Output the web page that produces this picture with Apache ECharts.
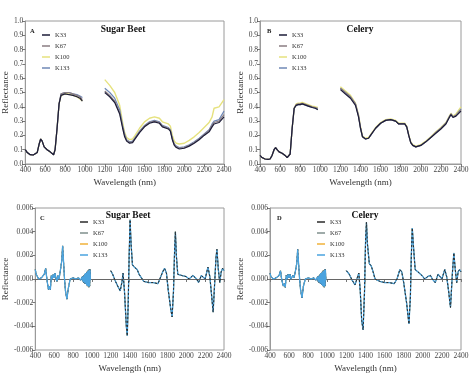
<!DOCTYPE html>
<html><head><meta charset="utf-8">
<script src="https://cdn.jsdelivr.net/npm/echarts@6/dist/echarts.min.js"></script>
<style>html,body{margin:0;padding:0;background:#fff}#c{width:474px;height:374px}</style>
</head><body><div id="c"></div>
<script>
// ---------- data ----------
const names = ['K33','K67','K100','K133'];

// reflectance wavelengths
const wlVis = [400,420,450,480,500,520,540,555,570,590,620,650,670,685,700,720,740,760,780,800,820,840,880,920,950,975];
const wlSwir = [1200,1250,1300,1350,1380,1400,1420,1450,1480,1500,1550,1600,1650,1700,1750,1780,1800,1840,1860,1880,1900,1920,1950,2000,2050,2100,2150,2200,2250,2280,2300,2320,2350,2400];

// Panel A: Sugar Beet reflectance
const beetK33Vis  = [0.10,0.08,0.065,0.063,0.065,0.08,0.14,0.175,0.16,0.12,0.10,0.085,0.072,0.065,0.10,0.25,0.42,0.48,0.49,0.49,0.485,0.485,0.48,0.47,0.46,0.44];
const beetK67Vis  = [0.10,0.08,0.065,0.063,0.065,0.08,0.14,0.175,0.16,0.12,0.10,0.085,0.072,0.065,0.10,0.25,0.42,0.49,0.50,0.50,0.505,0.50,0.49,0.48,0.47,0.45];
const beetK100Vis = [0.10,0.08,0.065,0.063,0.065,0.08,0.14,0.175,0.16,0.12,0.10,0.085,0.072,0.065,0.10,0.25,0.42,0.48,0.49,0.49,0.49,0.49,0.48,0.47,0.455,0.44];
const beetK133Vis = [0.10,0.08,0.065,0.063,0.065,0.08,0.14,0.175,0.16,0.12,0.10,0.085,0.072,0.065,0.10,0.25,0.42,0.49,0.50,0.50,0.50,0.50,0.49,0.485,0.475,0.465];
const beetK33Swir  = [0.50,0.47,0.43,0.35,0.25,0.19,0.16,0.145,0.15,0.17,0.22,0.26,0.285,0.295,0.285,0.26,0.25,0.245,0.23,0.17,0.13,0.115,0.105,0.11,0.125,0.145,0.17,0.20,0.225,0.26,0.28,0.275,0.29,0.33];
const beetK67Swir  = [0.51,0.48,0.44,0.36,0.26,0.20,0.165,0.15,0.155,0.175,0.225,0.265,0.29,0.30,0.29,0.265,0.255,0.25,0.235,0.175,0.135,0.12,0.11,0.115,0.13,0.15,0.175,0.205,0.235,0.27,0.29,0.285,0.30,0.345];
const beetK100Swir = [0.59,0.55,0.50,0.41,0.29,0.22,0.185,0.17,0.175,0.195,0.25,0.295,0.32,0.33,0.32,0.295,0.285,0.28,0.265,0.20,0.16,0.145,0.14,0.145,0.165,0.19,0.22,0.255,0.29,0.33,0.39,0.38,0.40,0.45];
const beetK133Swir = [0.53,0.50,0.46,0.38,0.27,0.21,0.17,0.155,0.16,0.18,0.23,0.27,0.295,0.305,0.295,0.27,0.26,0.255,0.24,0.18,0.14,0.125,0.115,0.12,0.135,0.155,0.18,0.21,0.24,0.28,0.30,0.295,0.31,0.37];

// Panel B: Celery reflectance
const celK33Vis  = [0.06,0.045,0.035,0.033,0.035,0.06,0.10,0.115,0.10,0.085,0.075,0.06,0.045,0.035,0.07,0.25,0.39,0.41,0.415,0.415,0.42,0.415,0.405,0.395,0.39,0.38];
const celK67Vis  = [0.06,0.045,0.035,0.033,0.035,0.06,0.10,0.115,0.10,0.085,0.075,0.06,0.045,0.035,0.07,0.25,0.39,0.415,0.42,0.42,0.425,0.42,0.41,0.40,0.395,0.39];
const celK100Vis = [0.06,0.045,0.035,0.033,0.035,0.06,0.10,0.115,0.10,0.085,0.075,0.06,0.045,0.035,0.07,0.25,0.39,0.42,0.425,0.425,0.43,0.425,0.415,0.405,0.40,0.395];
const celK133Vis = [0.06,0.045,0.035,0.033,0.035,0.06,0.10,0.115,0.10,0.085,0.075,0.06,0.045,0.035,0.07,0.25,0.39,0.41,0.415,0.415,0.42,0.415,0.405,0.395,0.39,0.385];
const celK33Swir  = [0.52,0.49,0.46,0.41,0.33,0.25,0.19,0.175,0.18,0.20,0.25,0.285,0.305,0.31,0.30,0.28,0.28,0.28,0.26,0.20,0.15,0.13,0.12,0.13,0.155,0.185,0.215,0.245,0.28,0.32,0.345,0.325,0.335,0.37];
const celK67Swir  = [0.53,0.50,0.47,0.42,0.34,0.255,0.19,0.175,0.18,0.20,0.25,0.285,0.305,0.31,0.30,0.28,0.28,0.28,0.26,0.20,0.15,0.13,0.12,0.13,0.155,0.185,0.22,0.25,0.285,0.325,0.35,0.33,0.34,0.38];
const celK100Swir = [0.54,0.51,0.48,0.425,0.345,0.26,0.195,0.18,0.185,0.205,0.255,0.29,0.31,0.315,0.305,0.285,0.285,0.285,0.265,0.205,0.155,0.135,0.125,0.135,0.16,0.19,0.225,0.255,0.29,0.33,0.355,0.335,0.35,0.40];
const celK133Swir = [0.53,0.50,0.47,0.42,0.34,0.25,0.19,0.175,0.18,0.20,0.25,0.285,0.305,0.31,0.30,0.28,0.28,0.28,0.26,0.20,0.15,0.13,0.12,0.13,0.155,0.185,0.22,0.25,0.285,0.325,0.35,0.33,0.34,0.385];

// Panel C: Sugar Beet derivative (visible / NIR part and SWIR part)
const beetDerWlVis = [400,410,420,435,450,465,480,495,510,520,530,540,550,560,570,580,590,600,610,620,630,640,650,660,670,680,690,700,710,720,735,750,770,800,830,860,880,
  900,904,908,912,916,920,924,928,932,936,940,944,948,952,956,960,964,968,972,976,980,985];
const beetDerVis = [0.0008,0.0004,0.0003,0.0,-0.0001,0.0001,0.0002,0.0004,0.0009,0.0002,-0.0004,-0.0009,-0.0006,-0.0009,0.0003,0.0,0.0004,0.0001,0.0005,0.0,-0.0002,0.0003,0.0,0.0004,0.0003,0.0015,0.0028,0.0014,0.0,-0.0010,-0.0017,-0.0008,0.0,0.0001,0.0,0.0001,-0.0001,
  0.0002,-0.0002,0.0002,-0.0003,0.0003,-0.0003,0.0004,-0.0004,0.0005,-0.0004,0.0005,-0.0005,0.0006,-0.0006,0.0007,-0.0006,0.0007,-0.0007,0.0008,-0.0006,0.0008,-0.0001];
const beetDerWlSwir = [1200,1220,1250,1280,1300,1320,1330,1345,1365,1375,1385,1395,1405,1415,1430,1450,1480,1500,1550,1600,1650,1700,1720,1750,1770,1790,1810,1835,1850,1865,1875,1885,1895,1910,1950,2000,2030,2070,2090,2110,2130,2160,2180,2200,2230,2250,2270,2285,2300,2315,2325,2340,2355,2370,2385,2400];
const beetDerSwir = [0.0007,0.0004,-0.0002,-0.0007,-0.0010,-0.0002,0.0005,-0.0010,-0.0040,-0.0048,-0.0020,0.0020,0.0050,0.0030,0.0012,0.0010,0.0008,0.0004,-0.0002,-0.0003,-0.0003,-0.0004,-0.0003,0.0006,0.0009,0.0005,-0.0010,-0.0025,-0.0032,-0.0010,0.0020,0.0040,0.0020,0.0004,0.0003,0.0002,0.0,0.0003,0.0004,0.0,-0.0003,0.0003,0.0002,0.0,0.0010,0.0002,-0.0015,-0.0028,-0.0005,0.0018,0.0025,0.0008,-0.0003,0.0006,0.0009,0.0007];

// Panel D: Celery derivative
const celDerWlVis = [400,410,420,435,450,465,480,495,510,520,530,540,550,560,570,580,590,600,610,620,630,640,650,660,670,680,690,700,710,720,735,750,770,800,830,860,880,
  900,904,908,912,916,920,924,928,932,936,940,944,948,952,956,960,964,968,972,976,980,985];
const celDerVis = [0.0005,0.0002,0.0001,0.0,0.0,0.0001,0.0002,0.0003,0.0007,0.0001,-0.0003,-0.0006,-0.0004,-0.0007,0.0003,0.0,0.0004,0.0001,0.0004,0.0,-0.0001,0.0003,0.0001,0.0004,0.0003,0.0013,0.0025,0.0012,0.0,-0.0009,-0.0016,-0.0006,0.0,0.0001,0.0,0.0001,-0.0001,
  0.0002,-0.0002,0.0002,-0.0003,0.0003,-0.0003,0.0004,-0.0004,0.0005,-0.0004,0.0005,-0.0005,0.0006,-0.0006,0.0007,-0.0006,0.0007,-0.0007,0.0008,-0.0006,0.0008,-0.0001];
const celDerWlSwir = [1200,1230,1260,1290,1310,1330,1345,1360,1375,1390,1400,1410,1420,1440,1460,1480,1500,1550,1600,1650,1700,1730,1760,1780,1800,1830,1855,1870,1880,1890,1900,1920,1950,1990,2020,2050,2080,2100,2130,2160,2180,2200,2230,2250,2270,2290,2310,2325,2340,2355,2370,2385,2400];
const celDerSwir = [0.0007,0.0004,-0.0001,-0.0005,-0.0006,0.0005,-0.0010,-0.0035,-0.0043,-0.0010,0.0030,0.0048,0.0030,0.0013,0.0011,0.0006,0.0,-0.0002,-0.0003,-0.0003,-0.0004,0.0,0.0008,0.0006,-0.0003,-0.0020,-0.0038,-0.0015,0.0020,0.0043,0.0030,0.0008,0.0006,0.0003,0.0,0.0002,0.0003,0.0,-0.0003,0.0004,0.0002,0.0,0.0008,0.0002,-0.0010,-0.0024,0.0005,0.0022,0.0008,-0.0003,0.0006,0.0008,0.0006];

// ---------- build ----------
const serif = '"Liberation Serif","DejaVu Serif",serif';
const pairs = (wl, v) => wl.map((w, i) => [w, v[i]]);
function joinSpec(vis, swir) {
  return pairs(wlVis, vis).concat([[1090, '-']], pairs(wlSwir, swir));
}
const specColors = {K33:'#1c1c38', K67:'#8a7d82', K100:'#e6e27e', K133:'#6f88b6'};
const derColors  = {K33:'#2a2a2a', K67:'#7f8f8c', K100:'#f0b23a', K133:'#4aa3df'};

const grids = [
  {left:23, top:21, width:201, height:143},
  {left:260, top:21, width:201, height:143},
  {left:33, top:208, width:191, height:143},
  {left:270, top:208, width:191, height:143}
].map(g => Object.assign(g, {show:true, borderColor:'#9a9a9a', borderWidth:1, containLabel:false}));

const xAxes = [0,1,2,3].map(i => ({
  type:'value', gridIndex:i, min:400, max:2400, interval:200,
  name:'Wavelength (nm)', nameLocation:'middle', nameGap:14,
  nameTextStyle:{fontFamily:serif, fontSize:9, color:'#333'},
  axisLine:{show:true, lineStyle:{color:'#9a9a9a'}},
  axisTick:{show:true, length:3, lineStyle:{color:'#777'}},
  axisLabel:{fontFamily:serif, fontSize:7.5, color:'#444', margin:2, showMinLabel:true, showMaxLabel:true,
    hideOverlap:false, formatter: v => String(v)},
  splitLine:{show:false}
}));
const yAxes = [0,1,2,3].map(i => {
  const der = i >= 2;
  return {
    type:'value', gridIndex:i,
    min: der ? -0.006 : 0, max: der ? 0.006 : 1, interval: der ? 0.002 : 0.1,
    name:'Reflectance', nameLocation:'middle', nameGap: der ? 24 : 14,
    nameTextStyle:{fontFamily:serif, fontSize:9, color:'#333'},
    axisLine:{show:true, lineStyle:{color:'#9a9a9a'}},
    axisTick:{show:true, length:3, lineStyle:{color:'#777'}},
    axisLabel:{fontFamily:serif, fontSize:7.5, color:'#444', margin:2,
      formatter: v => der ? v.toFixed(3) : v.toFixed(1)},
    splitLine:{show:false}
  };
});

const series = [];
const specSets = [
  {K33:[beetK33Vis,beetK33Swir], K67:[beetK67Vis,beetK67Swir], K100:[beetK100Vis,beetK100Swir], K133:[beetK133Vis,beetK133Swir]},
  {K33:[celK33Vis,celK33Swir], K67:[celK67Vis,celK67Swir], K100:[celK100Vis,celK100Swir], K133:[celK133Vis,celK133Swir]}
];
['K100','K133','K67','K33'].forEach((n, k) => {
  specSets.forEach((set, gi) => {
    series.push({type:'line', name:n, xAxisIndex:gi, yAxisIndex:gi, symbol:'none', silent:true, z:2+k,
      data: joinSpec(set[n][0], set[n][1]),
      lineStyle:{color:specColors[n], width: n==='K100' ? 1.4 : 1.2},
      itemStyle:{color:specColors[n]}});
  });
});
const derSets = [
  [beetDerWlVis, beetDerVis, beetDerWlSwir, beetDerSwir],
  [celDerWlVis, celDerVis, celDerWlSwir, celDerSwir]
];
const visOrder = ['K100','K67','K33','K133'];
const swirOrder = ['K100','K67','K133','K33'];
derSets.forEach((s, k) => {
  const gi = k + 2;
  const mk = (n, wl, v, z) => ({type:'line', name:n, xAxisIndex:gi, yAxisIndex:gi, symbol:'none', silent:true, z,
      data: pairs(wl, v),
      lineStyle:{color:derColors[n], width: n==='K133' ? 1.3 : 1, type: n==='K33' ? [2,2] : 'solid'},
      itemStyle:{color:derColors[n]}});
  visOrder.forEach((n, j) => series.push(mk(n, s[0], s[1], 2+j)));
  swirOrder.forEach((n, j) => series.push(mk(n, s[2], s[3], 2+j)));
  series.push({type:'line', name:'zero', xAxisIndex:gi, yAxisIndex:gi, symbol:'none', silent:true, z:10,
    data:[], markLine:{silent:true, symbol:'none', label:{show:false}, animation:false,
      lineStyle:{color:'#666', width:1.2, type:'solid'}, data:[{yAxis:0}]}});
});

function legendFor(left, top, cols) {
  return {left, top, orient:'vertical', itemGap:3, itemWidth:8, itemHeight:1.5, icon:'rect', padding:0,
    textStyle:{fontFamily:serif, fontSize:6.5, color:'#333', lineHeight:8},
    data: names.map(n => ({name:n, icon:'rect', itemStyle:{color:cols[n], borderWidth:0}})),
    selectedMode:false};
}
const legends = [
  legendFor(42, 31, specColors),
  legendFor(279, 31, specColors),
  legendFor(80, 218, derColors),
  legendFor(317, 218, derColors)
];

const titles = [
  {text:'Sugar Beet', left:123, top:25},
  {text:'Celery', left:360, top:25},
  {text:'Sugar Beet', left:128, top:211},
  {text:'Celery', left:365, top:211}
].map(t => ({text:t.text, left:t.left, top:t.top, textAlign:'center', padding:0,
  textStyle:{fontFamily:serif, fontSize:9.5, fontWeight:'bold', color:'#111'}}));
const letters = [['A',30,28],['B',267,28],['C',40,215],['D',277,215]].map(l => ({
  text:l[0], left:l[1], top:l[2], padding:0, textStyle:{fontFamily:serif, fontSize:6.5, fontWeight:'bold', color:'#222'}}));

const chart = echarts.init(document.getElementById('c'), null, {renderer:'canvas'});
chart.setOption({
  animation:false, backgroundColor:'#fff',
  title: titles.concat(letters),
  legend: legends,
  grid: grids, xAxis: xAxes, yAxis: yAxes, series
});
</script></body></html>
